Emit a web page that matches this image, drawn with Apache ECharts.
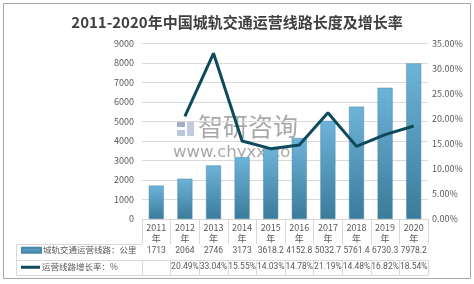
<!DOCTYPE html>
<html>
<head>
<meta charset="utf-8">
<script src="https://cdn.jsdelivr.net/npm/echarts@6/dist/echarts.min.js"></script>
<style>
  html, body { margin: 0; padding: 0; background: #fff; }
  #chart { width: 474px; height: 284px; }
</style>
</head>
<body>
<div id="chart"></div>
<script>
// 数据
const years = ['2011', '2012', '2013', '2014', '2015', '2016', '2017', '2018', '2019', '2020']
const lineLength = [1713, 2064, 2746, 3173, 3618.2, 4152.8, 5032.7, 5761.4, 6730.3, 7978.2] // 运营线路 公里
const growthRate = [null, 20.49, 33.04, 15.55, 14.03, 14.78, 21.19, 14.48, 16.82, 18.54] // 增长率 %
const leftTicks = { min: 0, max: 9000, interval: 1000 }
const rightTicks = { min: 0, max: 35, interval: 5 }

const barName = '城轨交通运营线路：公里'
const lineName = '运营线路增长率：%'

const font = '"Noto Sans CJK SC", sans-serif'
const numFont = 'Roboto, "Noto Sans CJK SC", sans-serif'
const labelColor = '#595959'
const tableLine = '#d9d9d9'

const chart = echarts.init(document.getElementById('chart'))

// 表格的一行（借用类目轴）
function tableRow(offset, tickLen, texts) {
  return {
    type: 'category',
    gridIndex: 0,
    position: 'bottom',
    offset: offset,
    data: years,
    axisLine: { show: true, lineStyle: { color: tableLine } },
    axisTick: { show: tickLen > 0, length: tickLen, interval: 0, lineStyle: { color: tableLine } },
    axisLabel: {
      show: !!texts,
      interval: 0,
      margin: 3,
      fontSize: 8.5,
      fontFamily: numFont,
      color: labelColor,
      formatter: function(v, i) { return texts ? texts[i] : '' }
    }
  }
}

const option = {
  animation: false,
  textStyle: { fontFamily: font },
  title: {
    text: '2011-2020年中国城轨交通运营线路长度及增长率',
    left: 'center',
    top: 10,
    textStyle: { fontSize: 15, fontWeight: 'bold', color: '#404040', fontFamily: font }
  },
  legend: [
    {
      data: [{ name: barName, icon: 'rect' }],
      left: 21, top: 246, padding: 0, itemWidth: 19, itemHeight: 5,
      textStyle: { fontSize: 8.5, color: labelColor, padding: [0, 0, 0, -3] }
    },
    {
      data: [{ name: lineName, icon: 'rect' }],
      left: 21, top: 263, padding: 0, itemWidth: 19, itemHeight: 3,
      textStyle: { fontSize: 8.5, color: labelColor, padding: [0, 0, 0, -3] }
    }
  ],
  grid: { left: 142, right: 46, top: 43.5, bottom: 65 },
  xAxis: [
    // 表头：年份
    {
      type: 'category',
      data: years,
      axisLine: { show: true, lineStyle: { color: tableLine } },
      axisTick: { show: true, length: 25, interval: 0, lineStyle: { color: tableLine } },
      axisLabel: {
        interval: 0,
        margin: 3,
        fontSize: 9,
        lineHeight: 11,
        color: labelColor,
        formatter: function(v) { return v + '\n年' }
      }
    },
    tableRow(25, 16, lineLength.map(String)),
    tableRow(41, 15, growthRate.map(function(v) { return v == null ? '' : v.toFixed(2) + '%' })),
    tableRow(56, 0, null)
  ],
  yAxis: [
    {
      type: 'value',
      min: leftTicks.min,
      max: leftTicks.max,
      interval: leftTicks.interval,
      axisLine: { show: false },
      axisTick: { show: false },
      axisLabel: { fontSize: 9, color: labelColor, margin: 8, formatter: function(v) { return String(v) } },
      splitLine: { lineStyle: { color: tableLine } }
    },
    {
      type: 'value',
      min: rightTicks.min,
      max: rightTicks.max,
      interval: rightTicks.interval,
      axisLine: { show: false },
      axisTick: { show: false },
      splitLine: { show: false },
      axisLabel: {
        fontSize: 9,
        color: labelColor,
        margin: 4,
        formatter: function(v) { return v.toFixed(2) + '%' }
      }
    }
  ],
  series: [
    {
      name: barName,
      type: 'bar',
      xAxisIndex: 0,
      yAxisIndex: 0,
      barWidth: 15,
      itemStyle: {
        color: new echarts.graphic.LinearGradient(0, 0, 0, 1, [
          { offset: 0, color: '#6db4d8' },
          { offset: 1, color: '#3b7b9b' }
        ]),
        borderColor: '#4a87a6',
        borderWidth: 0.5
      },
      data: lineLength
    },
    {
      name: lineName,
      type: 'line',
      xAxisIndex: 0,
      yAxisIndex: 1,
      symbol: 'none',
      lineStyle: { color: '#0e4a5c', width: 3 },
      itemStyle: { color: '#0e4a5c' },
      data: growthRate
    }
  ],
  graphic: [
    // 外框
    { type: 'rect', shape: { x: 3.5, y: 3.5, width: 467, height: 275 }, style: { fill: 'none', stroke: '#a6a6a6', lineWidth: 1 }, silent: true },
    // 表格左侧图例列的边线
    { type: 'line', shape: { x1: 16.5, y1: 244.5, x2: 142, y2: 244.5 }, style: { stroke: tableLine } },
    { type: 'line', shape: { x1: 16.5, y1: 260.5, x2: 142, y2: 260.5 }, style: { stroke: tableLine } },
    { type: 'line', shape: { x1: 16.5, y1: 275.5, x2: 142, y2: 275.5 }, style: { stroke: tableLine } },
    { type: 'line', shape: { x1: 16.5, y1: 244.5, x2: 16.5, y2: 275.5 }, style: { stroke: tableLine } },
    // 水印
    {
      type: 'group',
      silent: true,
      z: 100,
      children: [
        { type: 'rect', shape: { x: 177, y: 121, width: 8, height: 6 }, style: { fill: 'rgba(90,110,160,0.55)' } },
        { type: 'rect', shape: { x: 177, y: 130, width: 8, height: 6 }, style: { fill: 'rgba(120,140,185,0.5)' } },
        { type: 'rect', shape: { x: 187, y: 121, width: 7, height: 15 }, style: { fill: 'rgba(120,140,185,0.45)' } },
        { type: 'text', style: { x: 198, y: 114, text: '智研咨询', fontSize: 25, fill: 'rgba(110,110,110,0.6)', stroke: 'rgba(255,255,255,0.6)', lineWidth: 1, fontFamily: font } },
        { type: 'text', style: { x: 173, y: 144, text: 'www.chyxx.com', fontSize: 16.5, fill: 'rgba(110,110,110,0.6)', stroke: 'rgba(255,255,255,0.6)', lineWidth: 1, fontFamily: '"DejaVu Sans", sans-serif' } }
      ]
    }
  ]
}

chart.setOption(option)
</script>
</body>
</html>
